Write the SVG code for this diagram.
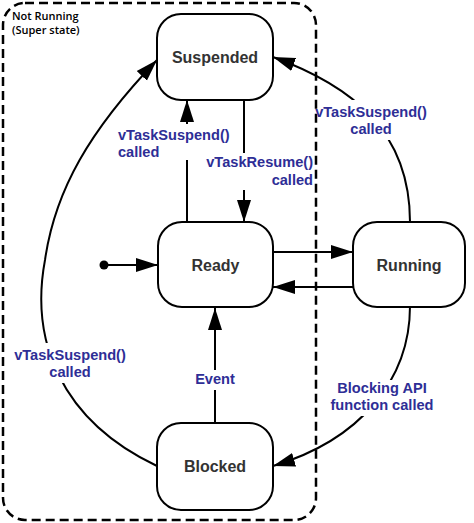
<svg xmlns="http://www.w3.org/2000/svg" width="474" height="523" viewBox="0 0 474 523">
<style>
.node rect{fill:#fff;stroke:#000;stroke-width:2}
.node text{font-family:"Liberation Sans",Arial,sans-serif;font-weight:bold;font-size:16px;fill:#333;text-anchor:middle}
.conn path,.conn line{fill:none;stroke:#000;stroke-width:2}
.lbl{font-family:"Liberation Sans",Arial,sans-serif;font-weight:bold;font-size:14.6px;fill:#2e2e96}
.super{fill:none;stroke:#000;stroke-width:2.5;stroke-dasharray:9 5}
.title{font-family:"Open Sans","Noto Sans",sans-serif;font-weight:600;font-size:11px;fill:#000}
</style>
<defs>
<marker id="ah" markerUnits="userSpaceOnUse" markerWidth="24" markerHeight="16" refX="22" refY="8" orient="auto">
<path d="M0,1 L22,8 L0,15 Z" fill="#000"/>
</marker>
<mask id="gaps" maskUnits="userSpaceOnUse" x="0" y="0" width="474" height="523">
<rect x="0" y="0" width="474" height="523" fill="#fff"/>
<rect x="312" y="100" width="120" height="40" fill="#000"/>
<rect x="12" y="343" width="120" height="40" fill="#000"/>
<rect x="332" y="380" width="106" height="36" fill="#000"/>
</mask>
</defs>
<g id="superstate">
<rect class="super" x="3" y="3" width="313" height="517" rx="22"/>
<text class="title" x="12" y="20">Not Running</text>
<text class="title" x="12" y="34">(Super state)</text>
</g>
<g id="suspended" class="node"><rect x="157" y="14" width="116" height="86" rx="24"/><text x="215" y="63">Suspended</text></g>
<g id="ready" class="node"><rect x="158" y="222" width="115" height="85" rx="24"/><text x="215.5" y="271">Ready</text></g>
<g id="running" class="node"><rect x="353" y="222" width="112" height="85" rx="24"/><text x="409" y="271">Running</text></g>
<g id="blocked" class="node"><rect x="157" y="423" width="116" height="87" rx="24"/><text x="215" y="472">Blocked</text></g>
<g id="connectors" class="conn">
<circle cx="104" cy="265" r="4.5" fill="#000"/>
<path d="M104,265 L158,265" marker-end="url(#ah)"/>
<path d="M273,252 L353,252" marker-end="url(#ah)"/>
<path d="M353,287 L273,287" marker-end="url(#ah)"/>
<path d="M187,222 L187,160"/>
<path d="M187,124 L187,100" marker-end="url(#ah)"/>
<path d="M244,100 L244,153"/>
<path d="M244,190 L244,222" marker-end="url(#ah)"/>
<path d="M215,423 L215,390"/>
<path d="M215,370 L215,308" marker-end="url(#ah)"/>
<g mask="url(#gaps)">
<path d="M410,222 C410,130 350,85 273,57" marker-end="url(#ah)"/>
<path d="M157,466 C60,420 30,340 45,260 C55,190 90,130 157,60" marker-end="url(#ah)"/>
<path d="M410,306 C410,380 360,440 273,466" marker-end="url(#ah)"/>
</g>
</g>
<g id="labels">
<text class="lbl" x="118" y="140">vTaskSuspend()</text>
<text class="lbl" x="118" y="157">called</text>
<text class="lbl" x="313" y="167" text-anchor="end">vTaskResume()</text>
<text class="lbl" x="313" y="185" text-anchor="end">called</text>
<text class="lbl" x="371" y="117" text-anchor="middle">vTaskSuspend()</text>
<text class="lbl" x="371" y="134" text-anchor="middle">called</text>
<text class="lbl" x="70" y="360" text-anchor="middle">vTaskSuspend()</text>
<text class="lbl" x="70" y="377" text-anchor="middle">called</text>
<text class="lbl" x="215" y="384" text-anchor="middle">Event</text>
<text class="lbl" x="382" y="393" text-anchor="middle">Blocking API</text>
<text class="lbl" x="382" y="410" text-anchor="middle">function called</text>
</g>
</svg>
